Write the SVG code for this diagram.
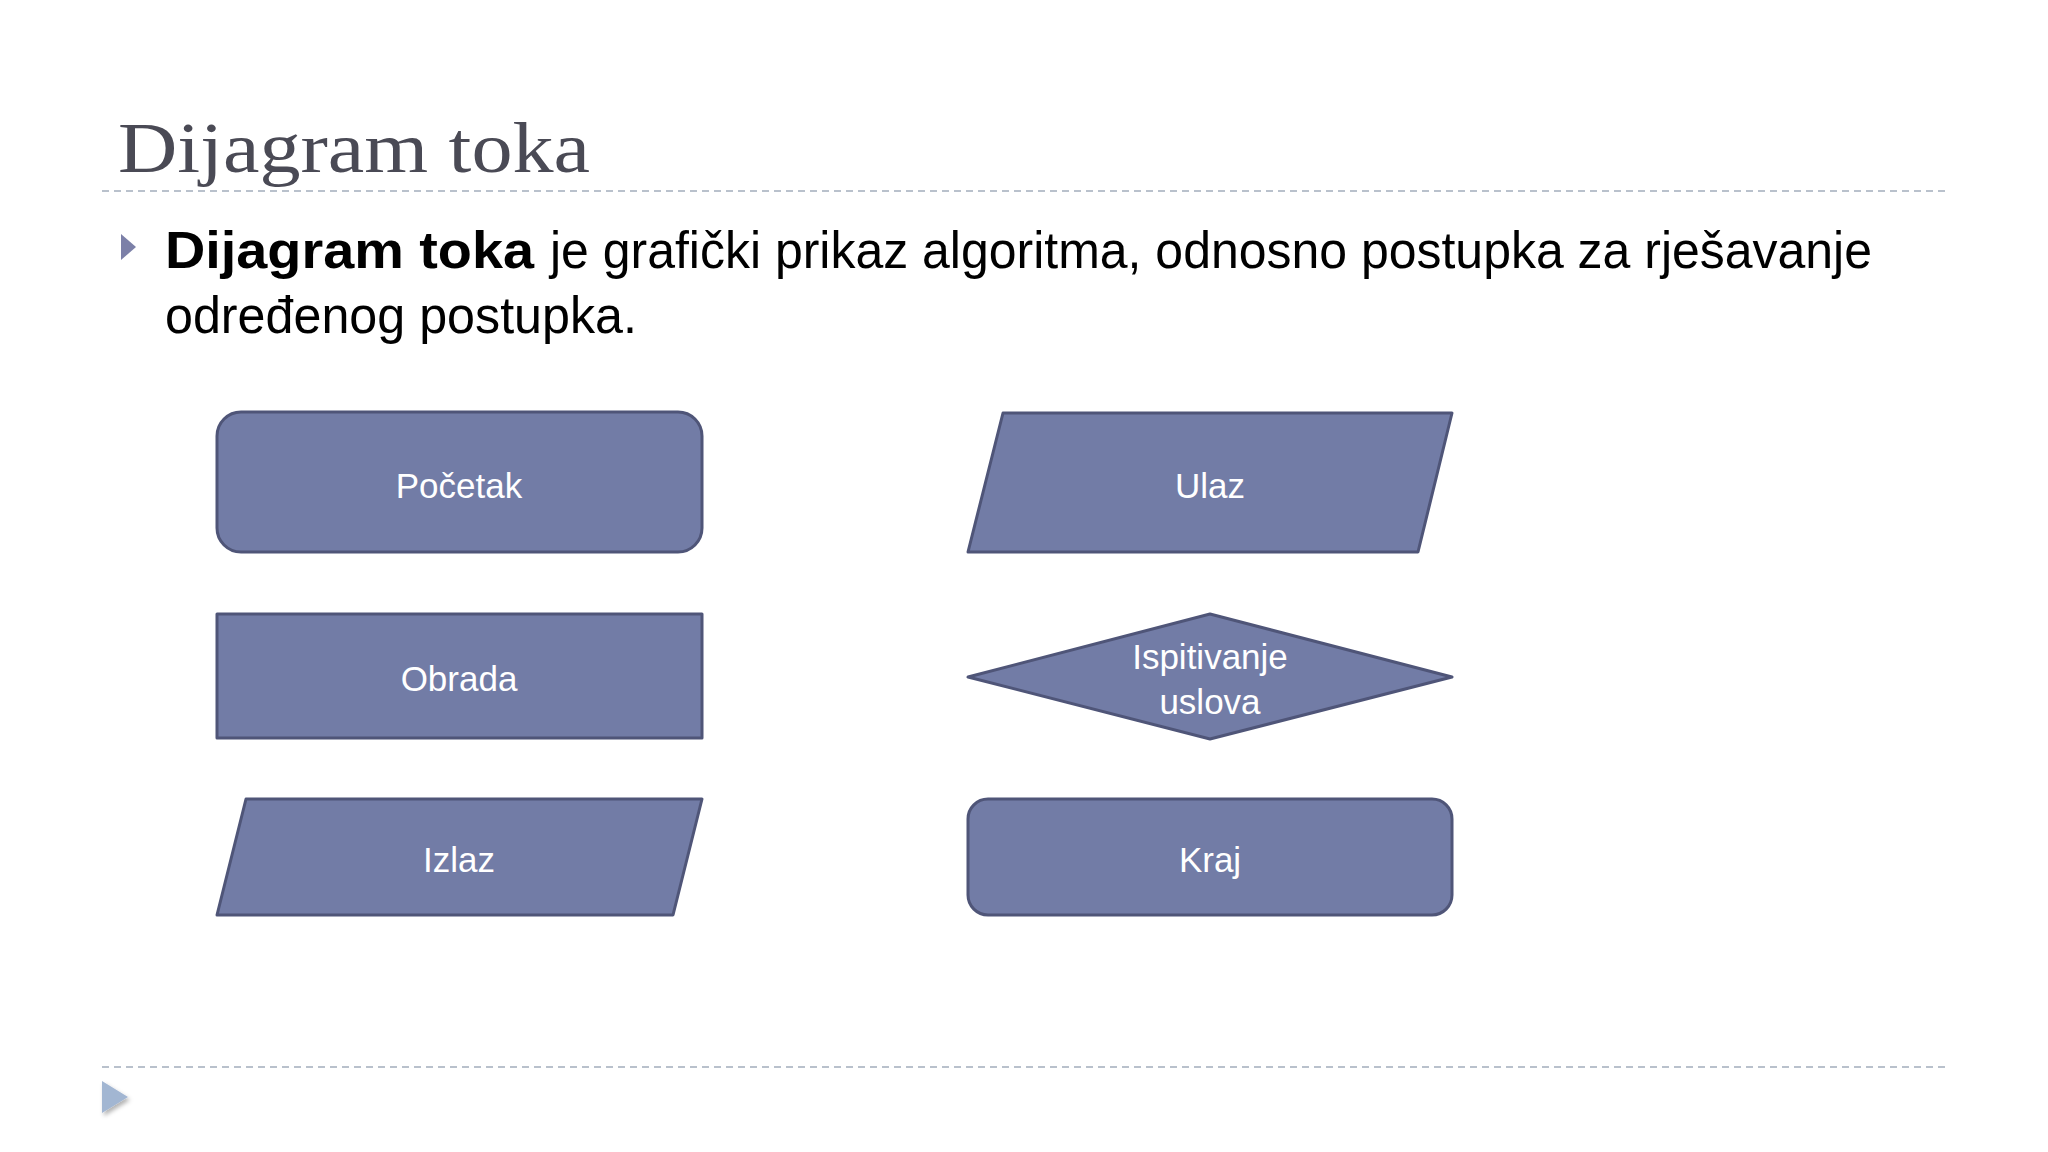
<svg xmlns="http://www.w3.org/2000/svg" width="2048" height="1152" viewBox="0 0 2048 1152">
<defs>
<style>
.shape{fill:#727ca6;stroke:#4f5578;stroke-width:3;stroke-linejoin:round}
.lbl{font-family:"Liberation Sans",Arial,sans-serif;font-size:35px;fill:#ffffff;text-anchor:middle}
.body{font-family:"Liberation Sans",Arial,sans-serif;font-size:52px;fill:#000000}
.dash{stroke:#b9c1cc;stroke-width:2;stroke-dasharray:7 5;fill:none}
</style>
<filter id="sh" x="-50%" y="-50%" width="200%" height="200%">
<feDropShadow dx="2" dy="3" stdDeviation="2" flood-color="#000" flood-opacity="0.3"/>
</filter>
</defs>
<rect width="2048" height="1152" fill="#ffffff"/>
<text x="118" y="172" font-family="'Liberation Serif',Times,serif" font-size="72" fill="#4a4a55" textLength="472" lengthAdjust="spacingAndGlyphs">Dijagram toka</text>
<line class="dash" x1="102" y1="191" x2="1946" y2="191"/>
<polygon points="121,234 136,247 121,260" fill="#7c80a8"/>
<text class="body" x="165" y="268" font-weight="bold" textLength="369" lengthAdjust="spacingAndGlyphs">Dijagram toka</text>
<text class="body" x="550" y="268" textLength="1322" lengthAdjust="spacingAndGlyphs">je grafički prikaz algoritma, odnosno postupka za rješavanje</text>
<text class="body" x="165" y="333" textLength="472" lengthAdjust="spacingAndGlyphs">određenog postupka.</text>
<g id="connectors"></g>
<g id="pocetak">
<rect class="shape" x="217" y="412" width="485" height="140" rx="24" ry="24"/>
<text class="lbl" x="459" y="498">Početak</text>
</g>
<g id="ulaz">
<polygon class="shape" points="1003,413 1452,413 1418,552 968,552"/>
<text class="lbl" x="1210" y="498">Ulaz</text>
</g>
<g id="obrada">
<rect class="shape" x="217" y="614" width="485" height="124"/>
<text class="lbl" x="459" y="691">Obrada</text>
</g>
<g id="ispitivanje">
<polygon class="shape" points="1210,614 1452,677 1210,739 968,677"/>
<text class="lbl" x="1210" y="669">Ispitivanje</text>
<text class="lbl" x="1210" y="714">uslova</text>
</g>
<g id="izlaz">
<polygon class="shape" points="246,799 702,799 673,915 217,915"/>
<text class="lbl" x="459" y="872">Izlaz</text>
</g>
<g id="kraj">
<rect class="shape" x="968" y="799" width="484" height="116" rx="20" ry="20"/>
<text class="lbl" x="1210" y="872">Kraj</text>
</g>
<line class="dash" x1="102" y1="1067" x2="1946" y2="1067"/>
<polygon points="102,1081 128,1097 102,1113" fill="#a2b6d2" filter="url(#sh)"/>
</svg>
